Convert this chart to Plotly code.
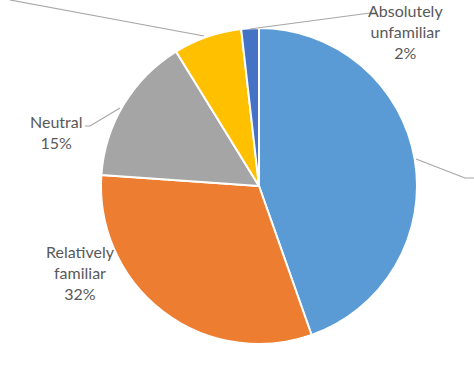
import plotly.graph_objects as go

W, H = 474, 366
labels = ["Very familiar", "Relatively familiar", "Neutral", "Relatively unfamiliar", "Absolutely unfamiliar"]
values = [44.6, 31.5, 15.1, 7.0, 1.8]
pct_text = ["45%", "32%", "15%", "7%", "2%"]
colors = ["#5B9BD5", "#ED7D31", "#A5A5A5", "#FFC000", "#4472C4"]

cx, cy, r = 259, 186, 158

def px(x):
    return x / W

def py(y):
    return 1 - y / H

fig = go.Figure(go.Pie(
    labels=labels, values=values, sort=False, direction="clockwise", rotation=0,
    marker=dict(colors=colors, line=dict(color="white", width=2)),
    textinfo="none", hoverinfo="label+percent", showlegend=False,
    domain=dict(x=[px(cx - r), px(cx + r)], y=[py(cy + r), py(cy - r)]),
))

font = dict(family="Lato, Open Sans, sans-serif", size=16, color="#595959")
annots = [
    (405, 32, "Absolutely<br>unfamiliar<br>2%"),
    (56, 132, "Neutral<br>15%"),
    (80, 272, "Relatively<br>familiar<br>32%"),
]
fig.update_layout(
    width=W, height=H, margin=dict(l=0, r=0, t=0, b=0),
    paper_bgcolor="white", plot_bgcolor="white",
    annotations=[dict(x=px(x), y=py(y), xref="paper", yref="paper", text=t, showarrow=False,
                      font=font, align="center", xanchor="center", yanchor="middle")
                 for x, y, t in annots],
)

lines = [
    [(250, 29), (370, 13), (377, 13)],
    [(416, 159), (465, 178), (474, 178)],
    [(85, 126), (90, 126), (120, 108)],
    [(10, 0), (204, 36)],
]
for pts in lines:
    path = "M " + " L ".join(f"{px(x)},{py(y)}" for x, y in pts)
    fig.add_shape(type="path", path=path, xref="paper", yref="paper",
                  line=dict(color="#A6A6A6", width=1.2))

fig.write_html("out.html", config={"displayModeBar": False},
               post_script="document.body.style.margin='0';document.body.style.overflow='hidden';")
